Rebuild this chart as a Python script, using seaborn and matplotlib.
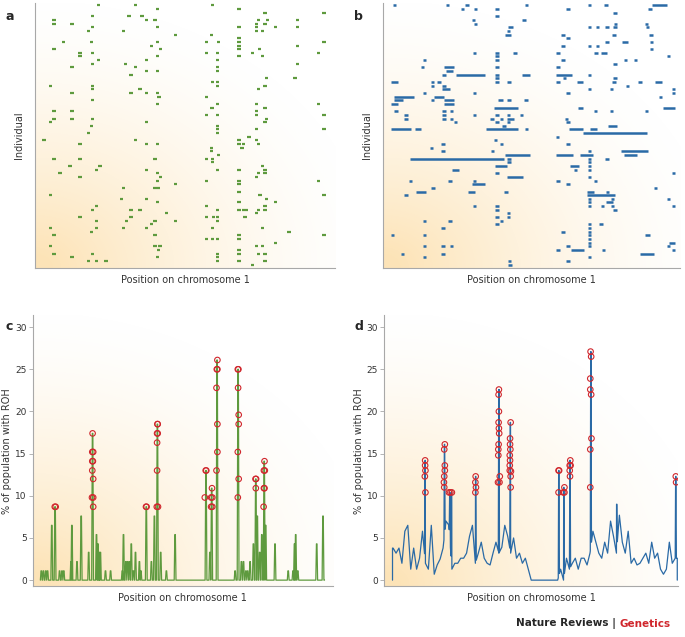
import numpy as np
import matplotlib
matplotlib.use("Agg")
import matplotlib.pyplot as plt
import seaborn as sns

# ---- panel a: ROH calls (short), one list of positions per individual
a_rows = [
    [205, 317, 547], [383, 627], [705, 882], [187, 297, 336],
    [72, 350, 375, 685, 712, 803], [72, 126, 680, 705], [187, 383, 627, 680, 737, 803],
    [175, 280, 680, 697], [437, 545], [627], [100, 185, 383, 530, 565, 627, 882],
    [365, 627, 803], [72, 392, 627, 688], [150, 187, 530, 563, 667, 865],
    [150, 383, 627, 697], [205, 350, 563], [187, 287, 803], [126, 317, 563],
    [350, 383, 563], [303], [710, 795], [547, 563], [62, 187, 563, 705],
    [187, 330, 686], [126, 303, 350, 383], [387, 530], [187], [383, 563, 680, 866],
    [546, 705], [72, 126, 680], [530, 563, 680, 882], [72, 126, 187, 710],
    [62, 350, 705], [185, 563], [563, 680, 882], [175, 563], [657],
    [42, 317, 627, 680], [150, 350, 383, 627, 640, 686], [545, 636], [545], [565],
    [72, 150, 375, 530, 547], [547], [120, 210, 697], [200, 350, 563, 627, 705],
    [90, 383, 686, 705], [150, 392, 680], [383, 530, 627, 865], [437, 627],
    [280, 375, 385], [627], [62, 690, 882], [275, 350, 710], [383, 627, 737],
    [200, 530, 705], [187, 303, 330, 563, 627, 640, 650, 686, 705], [410, 680],
    [150, 303, 530, 550, 563, 645], [200, 290, 375, 437, 563], [365],
    [62, 200, 280, 350, 547, 697], [185, 777], [72, 375, 627, 882],
    [530, 547, 563, 627], [737], [62, 375, 390, 680, 697], [385, 627],
    [72, 187, 563, 627, 686, 705], [126, 383, 563], [175, 200, 228, 563, 627, 705],
    [667],
]

# ---- panel b: ROH calls (start, end) per individual
b_rows = [
    [(40, 50), (200, 210), (258, 270), (440, 450), (630, 640), (680, 690), (825, 870)],
    [(245, 255), (285, 295), (350, 360), (565, 575), (812, 825)],
    [(708, 718)], [(350, 360)], [(280, 290), (432, 442)],
    [(285, 295), (710, 720), (803, 813)],
    [(388, 405), (630, 640), (655, 665), (683, 693), (708, 718), (806, 816)],
    [(385, 395)], [(380, 398), (548, 560), (705, 715), (817, 827)], [(565, 575)],
    [(683, 693), (733, 753), (818, 828)], [(548, 560), (630, 640), (655, 665)],
    [(818, 828)],
    [(283, 293), (350, 360), (405, 415), (535, 545), (650, 660), (670, 688)],
    [(350, 360), (870, 880)],
    [(130, 140), (350, 360), (550, 560), (740, 750), (770, 780)], [(708, 718)],
    [(125, 135), (195, 225), (350, 360), (535, 545)], [(200, 222)],
    [(190, 200), (230, 318), (350, 360), (432, 455), (535, 582), (630, 640)],
    [(350, 360), (555, 565), (708, 718)],
    [(35, 55), (155, 165), (175, 185), (350, 360), (387, 397), (535, 545), (598, 617),
     (705, 715), (783, 793), (833, 855)],
    [(155, 165), (190, 200), (745, 755)],
    [(190, 212), (630, 640), (698, 708), (885, 895)],
    [(130, 140), (283, 293), (565, 575), (885, 895)],
    [(45, 105), (165, 195), (845, 855)],
    [(45, 70), (155, 165), (195, 225), (357, 373), (385, 398), (437, 450)],
    [(35, 55), (195, 225)],
    [(345, 420), (600, 617), (858, 895)],
    [(45, 55), (190, 200), (212, 222), (648, 658), (698, 708), (803, 813)],
    [(75, 85), (190, 200), (283, 293), (350, 360), (385, 395), (425, 435)],
    [(75, 85), (190, 200), (212, 222), (335, 347), (363, 373), (387, 407), (560, 570)],
    [(225, 235), (350, 360), (385, 395), (565, 575)],
    [(370, 382), (690, 718)],
    [(35, 95), (108, 125), (323, 420), (440, 450), (572, 615), (637, 657)],
    [(617, 808)], [(533, 543)], [(345, 355)],
    [(187, 197), (365, 375), (565, 575)], [(153, 163)],
    [(187, 197), (337, 347), (630, 640), (732, 812)],
    [(380, 455), (533, 585), (608, 647), (740, 780)],
    [(93, 378), (387, 397), (630, 640), (683, 693)],
    [(387, 397), (630, 640)], [(350, 385), (575, 603), (630, 640)],
    [(218, 240), (588, 598), (630, 640)], [(350, 360), (885, 895)],
    [(385, 435), (630, 640)],
    [(88, 98), (208, 218), (283, 293), (535, 545), (648, 658)],
    [(280, 320), (565, 575)], [(155, 167), (830, 840)],
    [(110, 140), (268, 288), (378, 388), (628, 650), (685, 695)],
    [(75, 85), (628, 712)], [(630, 640), (700, 710), (870, 880)],
    [(630, 640), (685, 708)],
    [(283, 293), (350, 360), (630, 640), (670, 680), (700, 710), (885, 895)],
    [(350, 360), (708, 718)], [(385, 395)], [(350, 360), (385, 395)],
    [(130, 140), (208, 218), (365, 375)], [(350, 360), (630, 640), (665, 675)],
    [(187, 197), (630, 640)], [(550, 560), (630, 640)],
    [(35, 45), (130, 140), (630, 640), (803, 820)], [(630, 640)],
    [(630, 640), (875, 895)],
    [(130, 140), (187, 197), (212, 222), (565, 575), (630, 640), (870, 880)],
    [(535, 545), (578, 620), (672, 682), (885, 895)],
    [(65, 75), (187, 197), (788, 830)], [(130, 140), (630, 640)],
    [(388, 398), (565, 575)], [(390, 400)],
]

# ---- panel c: % of population with ROH (green)
c_peak_x = [2.8, 3.5, 4.3, 4.9, 6.3, 7.4, 8.9, 9.7, 10.3, 12.7, 13.0, 14.7, 16.1, 18.6,
            19.9, 21.2, 21.7, 22.1, 22.5, 24.2, 25.9, 29.8, 30.2, 31.0, 31.6, 32.2, 32.8,
            33.5, 34.2, 35.5, 36.0, 37.8, 39.5, 40.5, 41.5, 42.6, 44.5, 47.4, 57.7, 59.0,
            59.6, 61.4, 67.4, 68.4, 69.5, 70.2, 71.0, 71.6, 72.4, 73.5, 74.3, 74.8, 75.6,
            76.3, 77.1, 77.6, 80.7, 85.1, 86.7, 87.2, 87.6, 88.3, 94.6, 96.7]
c_peak_y = [1.1, 1.1, 1.1, 1.1, 6.5, 8.7, 1.1, 1.1, 1.1, 2.2, 6.5, 2.2, 7.6, 3.3,
            17.4, 5.4, 4.3, 3.3, 3.3, 1.1, 1.1, 1.1, 5.4, 2.2, 2.2, 2.2, 4.3,
            1.1, 3.3, 2.2, 1.1, 8.7, 2.2, 7.6, 18.5, 3.3, 1.1, 5.4, 13.0, 3.3,
            10.9, 26.1, 1.1, 25.0, 2.2, 2.2, 1.1, 1.1, 2.2, 4.3, 12.0, 7.6, 3.3,
            5.4, 14.1, 6.5, 4.3, 1.1, 1.1, 4.3, 5.4, 1.1, 4.3, 7.6]
c_range = (2.5, 97.2)
c_circ_x = [7.3, 7.6,
            19.9, 19.8, 20.1, 19.8, 20.0, 19.8, 20.1, 19.7, 20.1, 20.1,
            37.7, 37.9,
            41.5, 41.6, 41.4, 41.6, 41.4, 41.4, 41.3, 41.7,
            57.6, 57.8, 57.3,
            59.7, 59.4, 59.8, 59.4, 59.8,
            61.5, 61.3, 61.5, 61.2, 61.5, 61.5, 61.2,
            68.3, 68.5, 68.4, 68.6, 68.6, 68.3, 68.6, 68.3,
            74.2, 74.4, 74.3,
            77.2, 77.0, 77.3, 77.0, 77.2, 76.9]
c_circ_y = [8.7, 8.7,
            17.4, 15.2, 15.2, 14.1, 14.1, 13.0, 12.0, 9.8, 9.8, 8.7,
            8.7, 8.7,
            18.5, 18.5, 17.4, 17.4, 16.3, 13.0, 8.7, 8.7,
            13.0, 13.0, 9.8,
            10.9, 9.8, 9.8, 8.7, 8.7,
            26.1, 25.0, 25.0, 22.8, 18.5, 15.2, 13.0,
            25.0, 25.0, 22.8, 19.6, 18.5, 15.2, 12.0, 9.8,
            12.0, 12.0, 10.9,
            14.1, 13.0, 13.0, 10.9, 10.9, 8.7]

# ---- panel d: % of population with ROH (blue)
d_base_x = list(range(3, 100))
d_base_y = [3.8, 3.2, 3.8, 2.0, 5.8, 6.5, 1.3, 3.8, 1.3, 2.6, 5.8, 2.0, 1.3, 6.5, 0.7,
            1.8, 2.5, 3.8, 7.0, 6.5, 1.3, 2.0, 2.0, 2.6, 2.6, 3.2, 5.2, 6.5, 2.0, 3.2,
            4.5, 2.6, 2.0, 1.8, 3.2, 4.5, 3.2, 3.9, 6.5, 5.2, 3.2, 5.0, 2.6, 3.2, 2.0,
            2.6, 1.3, 0, 0, 0, 0, 0, 0, 0, 0, 0, 0, 1.3, 0, 2.6, 1.3, 2.0, 2.6, 1.3,
            2.6, 2.6, 1.8, 3.2, 5.8, 4.5, 3.2, 2.6, 4.5, 3.2, 7.0, 5.2, 3.2, 7.7, 4.5,
            3.2, 5.8, 2.0, 2.6, 1.8, 2.0, 2.6, 3.2, 2.0, 4.5, 2.6, 3.2, 1.3, 0.7, 1.3,
            4.5, 2.0, 2.6]
d_peak_x = [13.9, 20.5, 22.3, 22.9, 31.1, 39.0, 42.9, 59.4, 61.1, 63.2, 70.3, 79.1, 99.2]
d_peak_y = [14.2, 16.1, 10.4, 10.4, 12.3, 22.6, 18.7, 13.0, 11.0, 14.2, 27.1, 9.0, 12.3]
d_range = (2.8, 99.7)
d_circ_x = [13.9, 13.9, 14.0, 13.8, 14.0,
            20.6, 20.4, 20.6, 20.6, 20.4, 20.3, 20.4,
            22.0, 22.5, 23.0,
            31.1, 31.0, 31.2, 31.0,
            39.0, 38.9, 39.0, 38.9, 39.0, 39.1, 38.9, 38.8, 38.8, 38.7, 39.2, 39.3,
            43.0, 42.8, 42.8, 42.9, 42.7, 42.8, 42.7, 42.7, 43.1, 43.0, 43.0,
            59.3, 59.5, 59.3,
            61.3, 60.9, 61.3,
            63.3, 63.1, 63.4, 63.1, 63.2,
            70.2, 70.4, 70.1, 70.1, 70.4, 70.5, 70.1, 70.1,
            99.2, 99.3]
d_circ_y = [14.2, 13.6, 13.0, 12.3, 10.4,
            16.1, 15.5, 13.6, 13.0, 12.3, 11.6, 11.0,
            10.4, 10.4, 10.4,
            12.3, 11.6, 11.0, 10.4,
            22.6, 22.0, 20.0, 18.7, 18.0, 17.4, 16.1, 15.5, 14.8, 11.6, 11.6, 12.3,
            18.7, 16.8, 16.1, 15.5, 14.8, 14.2, 13.6, 13.0, 12.9, 12.3, 11.0,
            13.0, 13.0, 10.4,
            11.0, 10.4, 10.4,
            14.2, 13.6, 13.6, 13.0, 12.3,
            27.1, 26.5, 23.9, 22.6, 22.0, 16.8, 15.5, 11.0,
            12.3, 11.6]

GREEN = "#5e9a3e"
BLUE = "#2a6aa6"
RED = "#d0262c"
GRAY = "#a8a8a8"

sns.set_style("white")
plt.rcParams["font.family"] = ["DejaVu Sans"]

fig = plt.figure(figsize=(6.85, 6.37), dpi=100)


def add_glow(ax):
    n = 200
    xx, yy = np.meshgrid(np.linspace(0, 1, n), np.linspace(0, 1, n))
    r = np.sqrt((xx * 0.9) ** 2 + (yy * 1.0) ** 2)
    alpha = np.clip(1.05 - r, 0, 1) ** 1.6 * 0.7
    img = np.zeros((n, n, 4))
    img[..., 0] = 0.99
    img[..., 1] = 0.85
    img[..., 2] = 0.60
    img[..., 3] = alpha
    ax.imshow(img, extent=(0, 1, 0, 1), origin="lower", transform=ax.transAxes,
              aspect="auto", zorder=0, interpolation="bilinear")


def style(ax):
    for s in ["top", "right"]:
        ax.spines[s].set_visible(False)
    for s in ["left", "bottom"]:
        ax.spines[s].set_color(GRAY)
        ax.spines[s].set_linewidth(0.8)


def spike_trace(px, py, rng, hw=0.3):
    xs, ys = [rng[0]], [0]
    for x, h in sorted(zip(px, py)):
        xs += [x - hw, x - hw * 0.3, x + hw * 0.3, x + hw]
        ys += [0, h, h, 0]
    xs.append(rng[1])
    ys.append(0)
    return xs, ys


# panel a
ax_a = fig.add_axes([0.051, 0.579, 0.438, 0.416])
add_glow(ax_a)
for i, row in enumerate(a_rows):
    ax_a.hlines([i] * len(row), [p - 5 for p in row], [p + 5 for p in row],
                color=GREEN, lw=1.6, zorder=2)
ax_a.set_xlim(15, 915)
ax_a.set_ylim(72, -0.6)

# panel b
ax_b = fig.add_axes([0.559, 0.579, 0.434, 0.416])
add_glow(ax_b)
for i, row in enumerate(b_rows):
    ax_b.hlines([i] * len(row), [s for s, e in row], [e for s, e in row],
                color=BLUE, lw=1.8, zorder=2)
ax_b.set_xlim(10, 910)
ax_b.set_ylim(72, -0.6)

for ax in (ax_a, ax_b):
    style(ax)
    ax.set_xticks([])
    ax.set_yticks([])
    ax.set_xlabel("Position on chromosome 1", fontsize=7, color="#333333", labelpad=5)
ax_a.set_ylabel("Individual", fontsize=7, color="#333333", labelpad=8)
ax_b.set_ylabel("Individual", fontsize=7, color="#333333", labelpad=8)

# panel c / d
ax_c = fig.add_axes([0.048, 0.080, 0.438, 0.425])
ax_d = fig.add_axes([0.561, 0.080, 0.429, 0.425])
cx, cy = spike_trace(c_peak_x, c_peak_y, c_range)
dx, dy = spike_trace(d_peak_x, d_peak_y, (d_range[0], d_range[0]), hw=0.2)
# merge blue baseline with spikes
pts = sorted(list(zip(dx[1:-1], dy[1:-1])) + list(zip(d_base_x, d_base_y)))
dx = [d_range[0], d_range[0]] + [p[0] for p in pts] + [d_range[1], d_range[1]]
dy = [0, 3.8]
for x, y in pts:
    dy.append(y if y > 0 else np.interp(x, d_base_x, d_base_y))
dy += [2.6, 0]

for ax, xs, ys, col, ccx, ccy in ((ax_c, cx, cy, GREEN, c_circ_x, c_circ_y),
                                  (ax_d, dx, dy, BLUE, d_circ_x, d_circ_y)):
    add_glow(ax)
    sns.lineplot(x=xs, y=ys, sort=False, estimator=None, color=col, lw=0.9, ax=ax, zorder=2)
    sns.scatterplot(x=ccx, y=ccy, ax=ax, marker="o", s=16, facecolor="none",
                    edgecolor=RED, linewidth=0.8, zorder=3)
    ax.set_xlim(0, 100)
    ax.set_ylim(-0.7, 31.4)
    ax.set_yticks(range(0, 31, 5))
    ax.set_xticks([])
    ax.tick_params(axis="y", labelsize=6.5, colors="#333333", length=3, width=0.6,
                   color=GRAY, pad=1.5, left=True)
    style(ax)
    ax.set_xlabel("Position on chromosome 1", fontsize=7, color="#333333", labelpad=5)
    ax.set_ylabel("% of population with ROH", fontsize=7, color="#333333", labelpad=2)

for x, y, t in ((0.008, 0.985, "a"), (0.517, 0.985, "b"), (0.008, 0.497, "c"), (0.517, 0.497, "d")):
    fig.text(x, y, t, fontsize=9, fontweight="bold", ha="left", va="top")

fig.text(0.905, 0.013, "Nature Reviews | ", fontsize=7.5, fontweight="bold", ha="right", va="bottom")
fig.text(0.905, 0.013, "Genetics", fontsize=7.5, fontweight="bold", color=RED, ha="left", va="bottom")

fig.savefig("out.png", dpi=100)
